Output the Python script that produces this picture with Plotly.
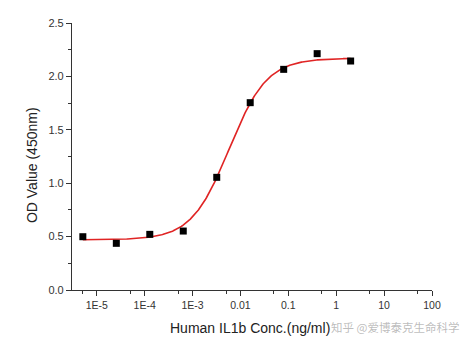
import numpy as np
import plotly.graph_objects as go

# Data (5-fold serial dilutions)
conc = [5.12e-6, 2.56e-5, 1.28e-4, 6.4e-4, 3.2e-3, 0.016, 0.08, 0.4, 2.0]
od = [0.499, 0.437, 0.521, 0.552, 1.055, 1.754, 2.066, 2.213, 2.144]

# Four-parameter logistic fit parameters (estimated from the drawn curve)
fit_bottom = 0.47
fit_top = 2.17
fit_ec50 = 0.0058
fit_hill = 1.1

x_tickvals = [1e-5, 1e-4, 1e-3, 1e-2, 1e-1, 1, 10, 100]
x_ticktext = ["1E-5", "1E-4", "1E-3", "0.01", "0.1", "1", "10", "100"]
x_minor = [5e-6, 5e-5, 5e-4, 5e-3, 5e-2, 0.5, 5, 50]
y_tickvals = [0.0, 0.5, 1.0, 1.5, 2.0, 2.5]
y_ticktext = ["0.0", "0.5", "1.0", "1.5", "2.0", "2.5"]

xc = np.logspace(np.log10(conc[0]), np.log10(conc[-1]), 300)
yc = fit_top + (fit_bottom - fit_top) / (1 + (xc / fit_ec50) ** fit_hill)

fig = go.Figure()
fig.add_trace(go.Scatter(x=xc, y=yc, mode="lines",
                         line=dict(color="#e02424", width=1.6),
                         hoverinfo="skip", showlegend=False))
fig.add_trace(go.Scatter(x=conc, y=od, mode="markers",
                         marker=dict(symbol="square", size=7, color="black"),
                         showlegend=False))

axis_color = "#333333"
fig.update_xaxes(type="log", range=[np.log10(3.04e-6), 2],
                 tickvals=x_tickvals, ticktext=x_ticktext,
                 showline=True, linecolor=axis_color, linewidth=1.2,
                 ticks="outside", ticklen=5, tickcolor=axis_color, tickwidth=1.2,
                 showgrid=False, zeroline=False,
                 tickfont=dict(family="Liberation Sans, Arial", size=10.5, color="#333333"),
                 minor=dict(tickvals=x_minor, ticks="outside", ticklen=3,
                            tickcolor=axis_color, tickwidth=1, showgrid=False))
fig.update_yaxes(range=[0, 2.5], tickvals=y_tickvals, ticktext=y_ticktext,
                 showline=True, linecolor=axis_color, linewidth=1.2,
                 ticks="outside", ticklen=5, tickcolor=axis_color, tickwidth=1.2,
                 showgrid=False, zeroline=False,
                 tickfont=dict(family="Liberation Sans, Arial", size=11, color="#333333"),
                 minor=dict(dtick=0.25, ticks="outside", ticklen=3,
                            tickcolor=axis_color, tickwidth=1, showgrid=False))

fig.add_annotation(text="OD Value (450nm)", xref="paper", yref="paper",
                   x=-0.111, y=0.468, xanchor="center", yanchor="middle",
                   textangle=-90, showarrow=False,
                   font=dict(family="Liberation Sans, Arial", size=14, color="#222222"))
fig.add_annotation(text="Human IL1b Conc.(ng/ml)", xref="paper", yref="paper",
                   x=0.495, y=-0.142, xanchor="center", yanchor="middle",
                   showarrow=False,
                   font=dict(family="Liberation Sans, Arial", size=14, color="#222222"))
fig.add_annotation(text="知乎 @爱博泰克生命科学", xref="paper", yref="paper",
                   x=1.0806, y=-0.139, xanchor="right", yanchor="middle",
                   showarrow=False,
                   font=dict(family="Noto Sans CJK SC", size=11.5, color="rgba(160,160,160,0.7)"))

fig.update_layout(width=468, height=348,
                  margin=dict(l=72, r=36, t=23, b=58),
                  plot_bgcolor="white", paper_bgcolor="white")

fig.write_html("out.html")
